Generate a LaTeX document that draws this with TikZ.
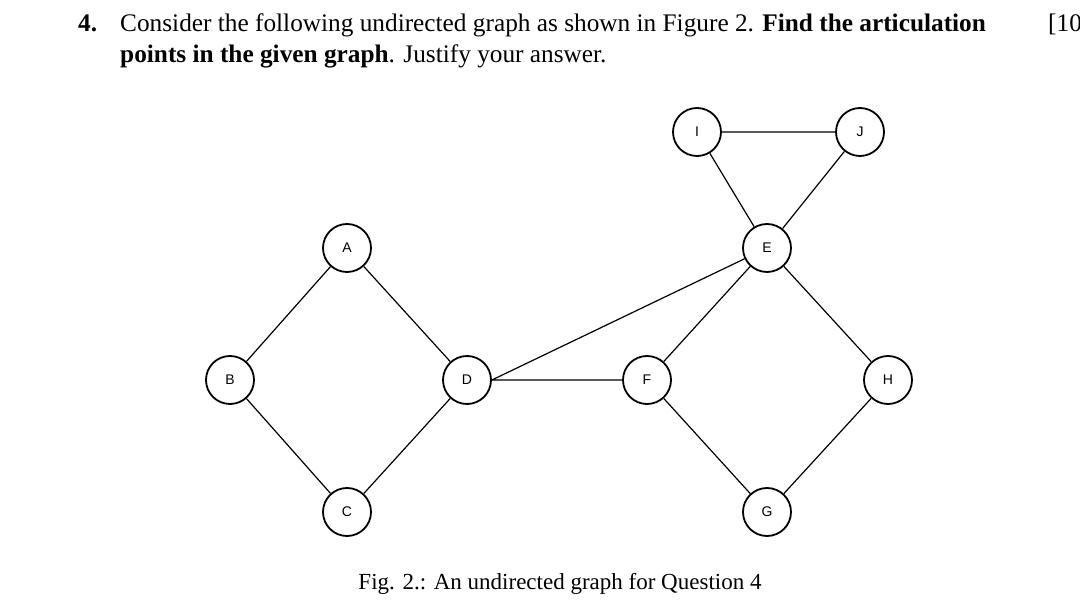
\documentclass[tikz,border=0pt]{standalone}
\usepackage{fontspec}
\setmainfont{Liberation Serif}
\newfontfamily\nodefont{Liberation Sans}
\begin{document}
\begin{tikzpicture}[x=1pt,y=-1pt,
  v/.style={circle,draw,line width=1.8pt,minimum size=48pt,inner sep=0pt,font=\nodefont\fontsize{14}{16}\selectfont},
  e/.style={line width=1.2pt},
  txt/.style={anchor=base west,inner sep=0pt,font=\fontsize{25.3}{29}\selectfont}]
\useasboundingbox (0,0) rectangle (1080,609);
\node[v] (I) at (697,132) {I};
\node[v] (J) at (860,132) {J};
\node[v] (A) at (347,248) {A};
\node[v] (E) at (767,248) {E};
\node[v] (B) at (230,380) {B};
\node[v] (D) at (467,380) {D};
\node[v] (F) at (647,380) {F};
\node[v] (H) at (888,380) {H};
\node[v] (C) at (347,512) {C};
\node[v] (G) at (767,512) {G};
\draw[e] (I)--(J) (I)--(E) (J)--(E) (A)--(B) (A)--(D) (B)--(C) (C)--(D)
  (D)--(F) (D.east)--(E) (E)--(F) (E)--(H) (F)--(G) (G)--(H);
\node[txt] (n4) at (78,32) {\textbf{4.}};
\node[txt] (l1) at (120,32) {Consider the following undirected graph as shown in Figure 2. \textbf{Find the articulation}};
\node[txt] (l2) at (120,63) {\textbf{points in the given graph}. Justify your answer.};
\node[txt] (m) at (1048,32) {[10};
\node[anchor=base,inner sep=0pt,font=\fontsize{23}{27}\selectfont] (cap) at (560,590) {Fig. 2.: An undirected graph for Question 4};
\end{tikzpicture}
\end{document}
